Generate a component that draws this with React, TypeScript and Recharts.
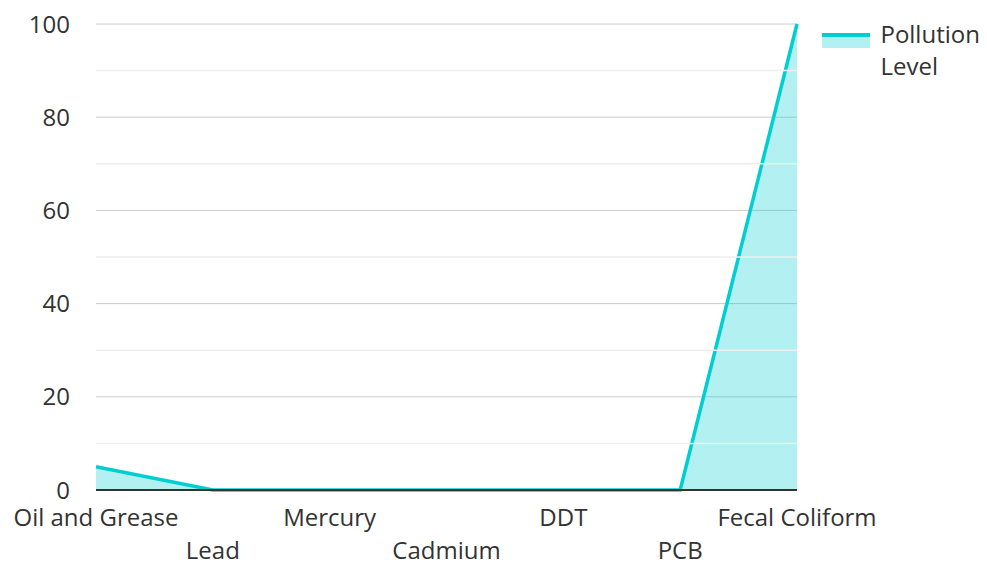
import React from 'react';
import { Area, AreaChart, CartesianGrid, Legend, ReferenceLine, XAxis, YAxis } from 'recharts';

const categories = ['Oil and Grease', 'Lead', 'Mercury', 'Cadmium', 'DDT', 'PCB', 'Fecal Coliform'];
const pollutionLevel = [5, 0, 0, 0, 0, 0, 100];
const yTicks = [0, 20, 40, 60, 80, 100];
const minorTicks = [10, 30, 50, 70, 90];

const data = categories.map((name, i) => ({ name, value: pollutionLevel[i] }));

const LINE = '#00CED1';
const FONT = '"Open Sans", "Noto Sans", sans-serif';

// labels alternate between two rows so they don't collide
const XTick = (props: any) => {
  const { x, y, payload, index } = props;
  const dy = index % 2 === 0 ? 28 : 61;
  return (
    <text x={x} y={y + dy} textAnchor="middle" fill="#333" fontSize={24} fontFamily={FONT}>
      {payload.value}
    </text>
  );
};

const LegendContent = (props: any) => {
  const item = props.payload?.[0];
  return (
    <div style={{ display: 'flex', alignItems: 'flex-start', fontFamily: FONT, fontSize: 24, color: '#333' }}>
      <div style={{ width: 50, height: 15, marginTop: 15, background: 'rgba(0,206,209,0.3)', borderTop: `4px solid ${LINE}`, boxSizing: 'border-box' }} />
      <div style={{ marginLeft: 10, width: 110, lineHeight: '32px' }}>{item?.value}</div>
    </div>
  );
};

export default function App() {
  return (
    <div style={{ position: 'absolute', top: 0, left: 0 }}>
      <AreaChart width={987} height={562} data={data} margin={{ top: 24, right: 190, left: 0, bottom: 0 }}>
        <CartesianGrid vertical={false} stroke="#ccc" />
        {minorTicks.map((v) => (
          <ReferenceLine key={v} y={v} stroke="#eee" strokeWidth={1.5} />
        ))}
        <XAxis
          dataKey="name"
          height={72}
          interval={0}
          tick={<XTick />}
          tickLine={false}
          axisLine={{ stroke: '#333', strokeWidth: 2 }}
        />
        <YAxis
          width={96}
          domain={[0, 100]}
          ticks={yTicks}
          tickLine={false}
          axisLine={false}
          tickMargin={20}
          tick={{ fill: '#333', fontSize: 24, fontFamily: FONT }}
        />
        <Legend
          layout="horizontal"
          verticalAlign="middle"
          align="center"
          content={<LegendContent />}
          wrapperStyle={{ top: 18, left: 822, width: 165 }}
        />
        <Area
          type="linear"
          dataKey="value"
          name="Pollution Level"
          stroke={LINE}
          strokeWidth={3.5}
          fill={LINE}
          fillOpacity={0.3}
          dot={false}
          activeDot={false}
          isAnimationActive={false}
        />
      </AreaChart>
    </div>
  );
}
